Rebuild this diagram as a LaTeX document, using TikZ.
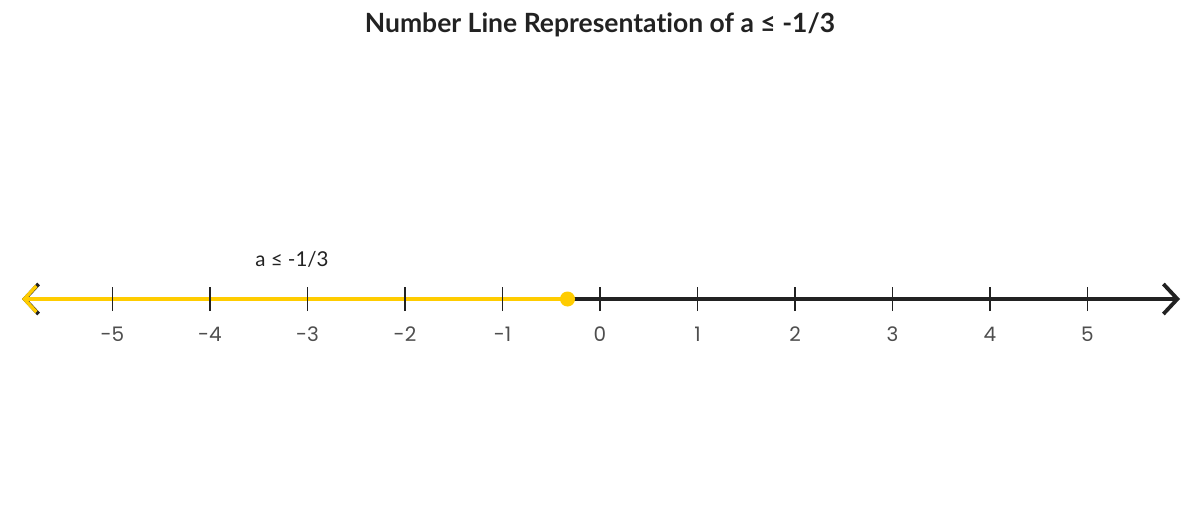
\documentclass[tikz,border=0pt]{standalone}
\usepackage{fontspec}
\setmainfont{Poppins}
\newfontfamily\titlefont[Ligatures=CommonOff]{Lato}
\usetikzlibrary{arrows.meta}
\definecolor{ylw}{HTML}{FFCC00}
\definecolor{ink}{HTML}{222222}
\tikzset{
  axis/.style={line width=3.8pt, ink},
  yline/.style={line width=3.4pt, ylw},
  tick/.style={line width=1.2pt, ink},
  ticklabel/.style={font=\fontsize{20}{24}\selectfont, text=ink!80, anchor=center},
}
\begin{document}
\begin{tikzpicture}[x=1pt,y=-1pt]
\useasboundingbox (0,0) rectangle (1200,530);
\node[font=\titlefont\fontsize{26.5}{30}\selectfont\bfseries, text=ink] (title) at (600,25) {Number Line Representation of a ≤ -1/3};
\coordinate (L) at (22,299);
\coordinate (R) at (1180,299);
\coordinate (P) at (567.5,299);
\draw[axis, {Straight Barb[length=14pt,width=30pt]}-{Straight Barb[length=14pt,width=30pt]}] (L) -- (R);
\draw[yline, {Straight Barb[length=12pt,width=26pt]}-] (L) -- (P);
\foreach \k in {-5,...,5}{
  \coordinate (t\k) at ({600+97.5*\k},299);
  \draw[tick] ([yshift=-12pt]t\k) -- ([yshift=12pt]t\k);
  \node[ticklabel] (n\k) at ({600+97.5*\k},334) {\k};
}
\node[circle, fill=ylw, inner sep=0pt, minimum size=15pt] (dot) at (P) {};
\node[font=\titlefont\fontsize{20.5}{24}\selectfont, text=ink] (lab) at (292,259) {a ≤ -1/3};
\end{tikzpicture}
\end{document}
